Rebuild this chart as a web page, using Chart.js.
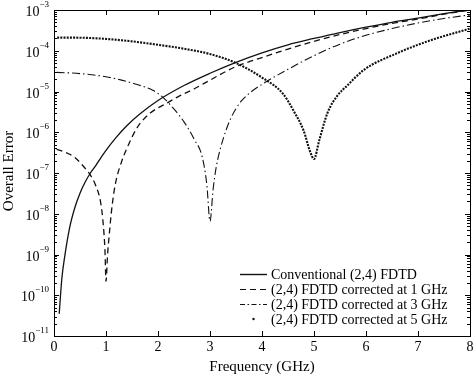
<!DOCTYPE html>
<html>
<head>
<meta charset="utf-8">
<script src="https://cdn.jsdelivr.net/npm/chart.js@4/dist/chart.umd.min.js"></script>
<style>
  html, body { margin: 0; padding: 0; background: #fff; }
  #wrap { width: 474px; height: 379px; position: relative; }
</style>
</head>
<body>
<div id="wrap"><canvas id="c" width="474" height="379"></canvas></div>
<script>
// ---- data ----
const seriesNames = [
  "Conventional (2,4) FDTD",
  "(2,4) FDTD corrected at 1 GHz",
  "(2,4) FDTD corrected at 3 GHz",
  "(2,4) FDTD corrected at 5 GHz"
];

const freqConv = [0.1, 0.15, 0.2, 0.3, 0.4, 0.5, 0.6, 0.7, 0.8, 0.9, 1.0, 1.2, 1.4, 1.65, 2.0, 2.5, 3.0, 3.5, 4.0, 4.5, 5.0, 5.5, 6.0, 6.5, 7.0, 7.5, 8.0];
const errConv  = [3.5e-11, 2.5e-10, 7.9e-10, 4.5e-9, 1.4e-8, 3.2e-8, 6.0e-8, 1.0e-7, 1.5e-7, 2.35e-7, 3.6e-7, 7.6e-7, 1.45e-6, 2.8e-6, 6.0e-6, 1.4e-5, 2.8e-5, 5.2e-5, 8.9e-5, 1.4e-4, 2.0e-4, 2.8e-4, 3.8e-4, 5.0e-4, 6.3e-4, 8.1e-4, 1.02e-3];

const freq1GHz = [0.05, 0.2, 0.4, 0.6, 0.7, 0.8, 0.9, 0.95, 0.98, 1.0, 1.03, 1.06, 1.1, 1.15, 1.2, 1.3, 1.4, 1.6, 1.85, 2.15, 2.4, 2.7, 3.0, 3.5, 4.0, 4.5, 5.0, 5.5, 6.0, 6.5, 7.0, 7.5, 8.0];
const err1GHz  = [3.8e-7, 3.3e-7, 2.4e-7, 1.3e-7, 8.9e-8, 5.0e-8, 1.8e-8, 5.0e-9, 1.26e-9, 2.2e-10, 1.0e-9, 2.8e-9, 1.0e-8, 3.2e-8, 7.1e-8, 1.9e-7, 4.0e-7, 1.3e-6, 2.95e-6, 5.0e-6, 7.6e-6, 1.17e-5, 1.9e-5, 4.1e-5, 6.8e-5, 1.1e-4, 1.7e-4, 2.5e-4, 3.5e-4, 4.7e-4, 6.0e-4, 7.9e-4, 1.0e-3];

const freq3GHz = [0.05, 0.5, 1.0, 1.3, 1.6, 1.9, 2.1, 2.3, 2.5, 2.7, 2.85, 2.94, 3.0, 3.06, 3.12, 3.2, 3.3, 3.4, 3.5, 3.6, 3.8, 4.0, 4.5, 5.0, 5.5, 6.0, 6.5, 7.0, 7.5, 8.0];
const err3GHz  = [2.95e-5, 2.75e-5, 2.3e-5, 1.9e-5, 1.48e-5, 1.07e-5, 7.1e-6, 3.8e-6, 1.8e-6, 6.6e-7, 2.5e-7, 5.0e-8, 6.5e-9, 4.0e-8, 1.4e-7, 4.0e-7, 1.05e-6, 2.2e-6, 3.8e-6, 5.8e-6, 1.0e-5, 1.5e-5, 3.5e-5, 7.6e-5, 1.45e-4, 2.4e-4, 3.5e-4, 4.8e-4, 6.2e-4, 7.6e-4];

const freq5GHz = [0.06, 0.5, 1.0, 1.5, 2.0, 2.5, 3.0, 3.5, 4.0, 4.4, 4.6, 4.8, 4.92, 5.0, 5.1, 5.26, 5.45, 5.64, 5.96, 6.6, 7.24, 8.0];
const err5GHz  = [2.1e-4, 2.09e-4, 1.95e-4, 1.7e-4, 1.4e-4, 1.12e-4, 8.3e-5, 5.0e-5, 2.2e-5, 8.9e-6, 3.5e-6, 1.1e-6, 3.5e-7, 2.2e-7, 6.3e-7, 3.0e-6, 7.9e-6, 1.4e-5, 3.4e-5, 8.7e-5, 1.8e-4, 3.5e-4];

const xTicks = [0, 1, 2, 3, 4, 5, 6, 7, 8];
const yDecades = [-11, -10, -9, -8, -7, -6, -5, -4, -3];

const xTitle = "Frequency (GHz)";
const yTitle = "Overall Error";

// ---- build ----
const toPts = (xs, ys) => xs.map((x, i) => ({ x: x, y: ys[i] }));
const SERIF = '"Liberation Serif", "Times New Roman", serif';

const styles = [
  { borderWidth: 1.3, borderDash: [] },
  { borderWidth: 1.3, borderDash: [6, 4] },
  { borderWidth: 1.1, borderDash: [8, 3, 1.5, 3] },
  { borderWidth: 2.1, borderDash: [2, 1.2] }
];
const dataSets = [
  toPts(freqConv, errConv),
  toPts(freq1GHz, err1GHz),
  toPts(freq3GHz, err3GHz),
  toPts(freq5GHz, err5GHz)
];

const axesPlugin = {
  id: 'axesPlugin',
  afterDraw(chart) {
    const ctx = chart.ctx;
    const xs = chart.scales.x, ys = chart.scales.y;
    const a = chart.chartArea;
    ctx.save();
    ctx.strokeStyle = '#000';
    ctx.fillStyle = '#000';
    ctx.lineWidth = 1;
    // frame
    ctx.strokeRect(Math.round(a.left) + 0.5, Math.round(a.top) + 0.5,
                   Math.round(a.right - a.left), Math.round(a.bottom - a.top));
    // x ticks
    ctx.beginPath();
    xTicks.forEach(t => {
      const px = Math.round(xs.getPixelForValue(t)) + 0.5;
      ctx.moveTo(px, a.bottom); ctx.lineTo(px, a.bottom - 5);
      ctx.moveTo(px, a.top); ctx.lineTo(px, a.top + 5);
    });
    // y ticks (major + minor)
    yDecades.forEach(d => {
      for (let m = 1; m <= 9; m++) {
        if (d === -3 && m > 1) break;
        const v = m * Math.pow(10, d);
        const py = Math.round(ys.getPixelForValue(v)) + 0.5;
        const len = m === 1 ? 5 : 3;
        ctx.moveTo(a.left, py); ctx.lineTo(a.left + len, py);
        ctx.moveTo(a.right, py); ctx.lineTo(a.right - len, py);
      }
    });
    ctx.stroke();
    // x tick labels
    ctx.font = '14px ' + SERIF;
    ctx.textAlign = 'center';
    ctx.textBaseline = 'middle';
    xTicks.forEach(t => {
      ctx.fillText(String(t), xs.getPixelForValue(t), a.bottom + 11);
    });
    // y tick labels 10^d
    yDecades.forEach(d => {
      const py = ys.getPixelForValue(Math.pow(10, d));
      const exp = '\u2212' + String(-d);
      ctx.font = '9px ' + SERIF;
      const ew = ctx.measureText(exp).width;
      const right = a.left - 5;
      ctx.textAlign = 'left';
      ctx.textBaseline = 'alphabetic';
      ctx.fillText(exp, right - ew, py - 3);
      ctx.font = '14px ' + SERIF;
      ctx.textAlign = 'right';
      ctx.fillText('10', right - ew, py + 6);
    });
    // axis titles
    ctx.font = '15px ' + SERIF;
    ctx.textAlign = 'center';
    ctx.textBaseline = 'middle';
    ctx.fillText(xTitle, (a.left + a.right) / 2, 367);
    ctx.save();
    ctx.translate(9, 171);
    ctx.rotate(-Math.PI / 2);
    ctx.fillText(yTitle, 0, 0);
    ctx.restore();
    // legend
    const rowsY = [274, 289, 304, 319];
    const x0 = 240, x1 = 267, tx = 271;
    chart.data.datasets.forEach((ds, i) => {
      const y = rowsY[i];
      ctx.save();
      ctx.strokeStyle = ds.borderColor;
      ctx.lineWidth = i === 0 ? 1.4 : 1.2;
      if (i === 3) {
        ctx.beginPath();
        ctx.arc(253.5, y, 1.2, 0, Math.PI * 2);
        ctx.fillStyle = ds.borderColor;
        ctx.fill();
      } else {
        ctx.setLineDash(i === 1 ? [6, 4] : (i === 2 ? [5, 2.5, 1.5, 2.5] : []));
        ctx.beginPath();
        ctx.moveTo(x0, y + 0.5); ctx.lineTo(x1, y + 0.5);
        ctx.stroke();
      }
      ctx.restore();
      ctx.font = '14px ' + SERIF;
      ctx.textAlign = 'left';
      ctx.textBaseline = 'middle';
      ctx.fillText(ds.label, tx, y + 1);
    });
    ctx.restore();
  }
};

new Chart(document.getElementById('c'), {
  type: 'line',
  data: {
    datasets: dataSets.map((d, i) => ({
      label: seriesNames[i],
      data: d,
      borderColor: '#111',
      backgroundColor: '#111',
      borderWidth: styles[i].borderWidth,
      borderDash: styles[i].borderDash,
      pointRadius: 0,
      cubicInterpolationMode: 'monotone',
      fill: false
    }))
  },
  options: {
    responsive: false,
    animation: false,
    devicePixelRatio: 1,
    layout: { padding: { left: 54, right: 4, top: 10, bottom: 43 } },
    plugins: { legend: { display: false }, tooltip: { enabled: false } },
    scales: {
      x: { type: 'linear', min: 0, max: 8, display: false },
      y: { type: 'logarithmic', min: 1e-11, max: 1e-3, display: false }
    }
  },
  plugins: [axesPlugin]
});
</script>
</body>
</html>
